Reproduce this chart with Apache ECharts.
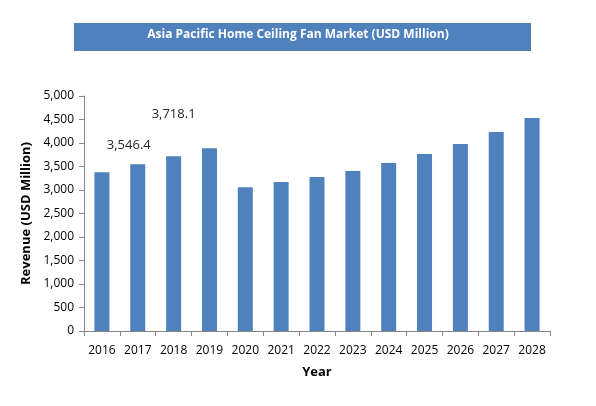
<!DOCTYPE html>
<html lang="en">
<head>
    <meta charset="utf-8">
    <title>ECharts</title>
    <script src="https://cdn.jsdelivr.net/npm/echarts@6/dist/echarts.min.js"></script>
    <style>
        html, body { margin: 0; padding: 0; background: #fff; }
    </style>
</head>
<body>
<div id="main" style="width: 596px;height:406px;"></div>
<script type="text/javascript">
    var years = ['2016', '2017', '2018', '2019', '2020', '2021', '2022', '2023', '2024', '2025', '2026', '2027', '2028'];
    var revenue = [3380, 3546.4, 3718.1, 3890, 3060, 3168, 3274, 3402, 3573, 3764, 3977, 4233, 4531];
    // which bars carry a value label, and how far above the bar it sits
    var labelled = { '2017': [-9, 13], '2018': [0, 35] };

    var fontFam = '"Open Sans", "DejaVu Sans", sans-serif';

    var barData = revenue.map(function (v, i) {
        var item = { value: v };
        var lab = labelled[years[i]];
        if (lab) {
            item.label = {
                show: true,
                position: 'top',
                distance: lab[1],
                offset: [lab[0], 0],
                formatter: function (p) {
                    return p.value.toLocaleString('en-US', { minimumFractionDigits: 1, maximumFractionDigits: 1 });
                },
                color: '#262626',
                fontSize: 13,
                fontFamily: fontFam
            };
        }
        return item;
    });

    var myChart = echarts.init(document.getElementById('main'));
    var option = {
        animation: false,
        backgroundColor: '#ffffff',
        graphic: [{
            type: 'rect',
            left: 74,
            top: 23,
            shape: { width: 457, height: 28 },
            style: { fill: '#4f81bd' }
        }, {
            type: 'text',
            left: 'center',
            top: 29,
            style: {
                text: 'Asia Pacific Home Ceiling Fan Market (USD Million)',
                fill: '#ffffff',
                font: 'bold 12px ' + fontFam
            }
        }],
        grid: {
            left: 84,
            right: 46,
            top: 96,
            bottom: 75
        },
        xAxis: {
            type: 'category',
            data: years,
            name: 'Year',
            nameLocation: 'middle',
            nameGap: 35,
            nameTextStyle: { fontWeight: 'bold', fontSize: 13, color: '#000', fontFamily: fontFam },
            axisLine: { lineStyle: { color: '#868686' } },
            axisTick: { show: true, alignWithLabel: false, length: 5, lineStyle: { color: '#868686' } },
            axisLabel: { color: '#000', fontSize: 12, margin: 14, fontFamily: fontFam }
        },
        yAxis: {
            type: 'value',
            min: 0,
            max: 5000,
            interval: 500,
            name: 'Revenue (USD Million)',
            nameLocation: 'middle',
            nameGap: 51,
            nameTextStyle: { fontWeight: 'bold', fontSize: 13, color: '#000', fontFamily: fontFam },
            axisLine: { show: true, lineStyle: { color: '#868686' } },
            axisTick: { show: true, length: 5, lineStyle: { color: '#868686' } },
            splitLine: { show: false },
            axisLabel: {
                color: '#000',
                fontSize: 12,
                margin: 10,
                fontFamily: fontFam,
                formatter: function (v) { return v.toLocaleString('en-US'); }
            }
        },
        series: [{
            type: 'bar',
            data: barData,
            barWidth: 15,
            itemStyle: { color: '#4f81bd' }
        }]
    };
    myChart.setOption(option);
</script>
</body>
</html>
